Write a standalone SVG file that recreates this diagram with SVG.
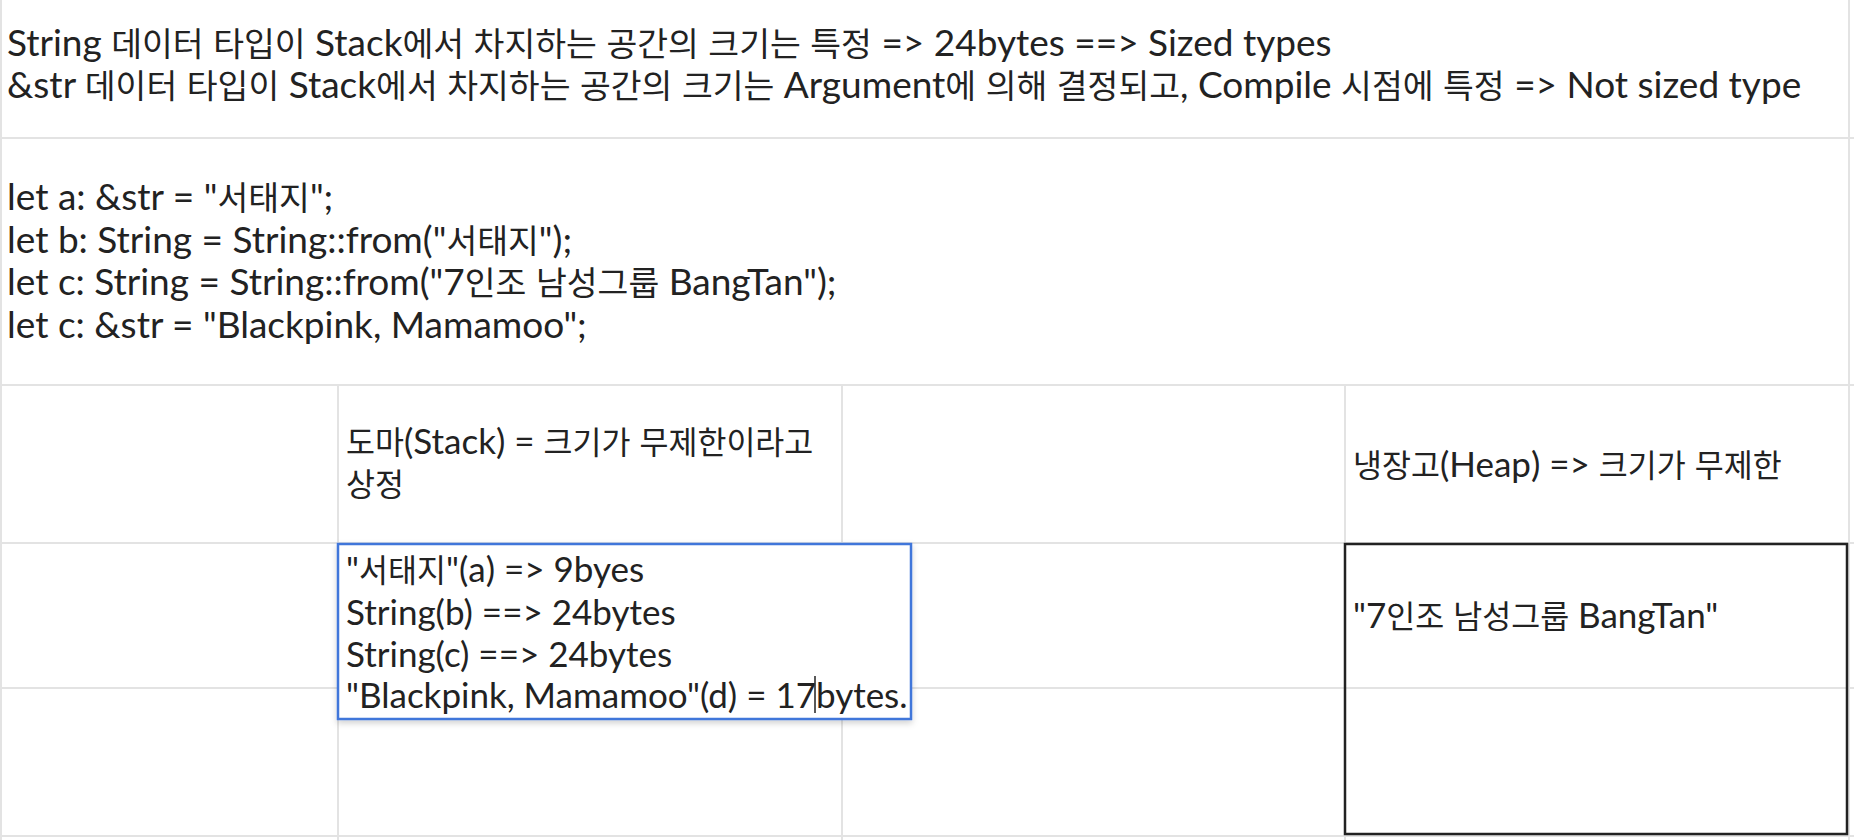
<svg xmlns="http://www.w3.org/2000/svg" width="1854" height="840" viewBox="0 0 1854 840">
<defs>
<style>
.t{font-family:Lato,"Noto Sans CJK KR","Noto Sans",sans-serif;font-size:35px;fill:#222}
.b{font-size:37px}
.k{font-family:"Noto Sans CJK KR","Noto Sans",sans-serif;font-size:31.5px}
.b .k{font-size:33.5px}
.g{stroke:#e3e3e3;stroke-width:2;fill:none}
</style>
<filter id="sh" x="-5%" y="-10%" width="110%" height="125%">
<feDropShadow dx="0" dy="3" stdDeviation="3" flood-color="#000" flood-opacity="0.18"/>
</filter>
</defs>
<rect width="1854" height="840" fill="#fff"/>
<g id="grid">
<line class="g" x1="1" y1="0" x2="1" y2="840"/>
<line class="g" x1="1849" y1="0" x2="1849" y2="840"/>
<line class="g" x1="0" y1="138" x2="1854" y2="138"/>
<line class="g" x1="0" y1="385" x2="1854" y2="385"/>
<line class="g" x1="0" y1="543" x2="1854" y2="543"/>
<line class="g" x1="0" y1="688" x2="1854" y2="688"/>
<line class="g" x1="0" y1="836" x2="1854" y2="836"/>
<line class="g" x1="338" y1="385" x2="338" y2="840"/>
<line class="g" x1="842" y1="385" x2="842" y2="840"/>
<line class="g" x1="1345" y1="385" x2="1345" y2="840"/>
</g>
<g id="header">
<text class="t b" x="7" y="56">String <tspan class="k">데이터</tspan> <tspan class="k">타입이</tspan> Stack<tspan class="k">에서</tspan> <tspan class="k">차지하는</tspan> <tspan class="k">공간의</tspan> <tspan class="k">크기는</tspan> <tspan class="k">특정</tspan> =&gt; 24bytes ==&gt; Sized types</text>
<text class="t b" x="7" y="98">&amp;str <tspan class="k">데이터</tspan> <tspan class="k">타입이</tspan> Stack<tspan class="k">에서</tspan> <tspan class="k">차지하는</tspan> <tspan class="k">공간의</tspan> <tspan class="k">크기는</tspan> Argument<tspan class="k">에</tspan> <tspan class="k">의해</tspan> <tspan class="k">결정되고</tspan>, Compile <tspan class="k">시점에</tspan> <tspan class="k">특정</tspan> =&gt; Not sized type</text>
</g>
<g id="code">
<text class="t b" x="7" y="210">let a: &amp;str = "<tspan class="k">서태지</tspan>";</text>
<text class="t b" x="7" y="253">let b: String = String::from("<tspan class="k">서태지</tspan>");</text>
<text class="t b" x="7" y="295">let c: String = String::from("7<tspan class="k">인조</tspan> <tspan class="k">남성그룹</tspan> BangTan");</text>
<text class="t b" x="7" y="338">let c: &amp;str = "Blackpink, Mamamoo";</text>
</g>
<g id="stack-header">
<text class="t" x="346" y="454"><tspan class="k">도마</tspan>(Stack) = <tspan class="k">크기가</tspan> <tspan class="k">무제한이라고</tspan></text>
<text class="t" x="346" y="496"><tspan class="k">상정</tspan></text>
</g>
<g id="heap-header">
<text class="t" x="1353" y="477"><tspan class="k">냉장고</tspan>(Heap) =&gt; <tspan class="k">크기가</tspan> <tspan class="k">무제한</tspan></text>
</g>
<g id="stack">
<rect x="338" y="544" width="573" height="175" fill="#fff" stroke="#3f76da" stroke-width="2.5" filter="url(#sh)"/>
<text class="t" x="346" y="582">"<tspan class="k">서태지</tspan>"(a) =&gt; 9byes</text>
<text class="t" x="346" y="625">String(b) ==&gt; 24bytes</text>
<text class="t" x="346" y="667">String(c) ==&gt; 24bytes</text>
<text class="t" x="346" y="708">"Blackpink, Mamamoo"(d) = 17bytes.</text>
<line x1="815" y1="676" x2="815" y2="713" stroke="#222" stroke-width="1.5"/>
</g>
<g id="heap">
<rect x="1345" y="544" width="502" height="290" fill="none" stroke="#222" stroke-width="2.5"/>
<text class="t" x="1353" y="628">"7<tspan class="k">인조</tspan> <tspan class="k">남성그룹</tspan> BangTan"</text>
</g>
</svg>
